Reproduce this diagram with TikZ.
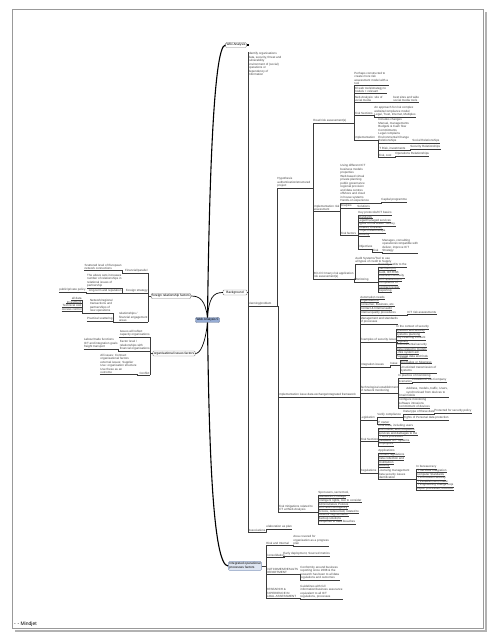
\documentclass[tikz,border=0pt]{standalone}
\usepackage{fontspec}
\setmainfont{Liberation Sans}
\usepackage{tikz}
\usetikzlibrary{calc}
\definecolor{mapblue}{RGB}{150,172,212}
\definecolor{mapline}{RGB}{60,60,60}
\tikzstyle{topic}=[anchor=south west, inner sep=.25pt, align=left, text=black!75, font=\fontsize{3}{3.5}\selectfont]
\tikzstyle{ltopic}=[topic, anchor=south east]
\tikzstyle{uline}=[mapline, line width=.35pt]
\tikzstyle{tiel}=[mapline, line width=.35pt]
\tikzstyle{mainbox}=[draw=gray, fill=white, rounded corners=1pt, inner sep=1pt, font=\fontsize{3.2}{3.7}\selectfont]
\tikzstyle{trunk}=[black, line width=1.1pt]
\tikzstyle{branch}=[black, line width=.7pt]
\newcommand{\topic}[3]{
 \node[topic] (#1) at #2 {#3};
 \draw[uline] (#1.south west) -- (#1.south east);
}
\newcommand{\ltopic}[3]{
 \node[ltopic] (#1) at #2 {#3};
 \draw[uline] (#1.south west) -- (#1.south east);
}
\newcommand{\tlink}[2]{\draw[tiel] (#1.south east) -| (#2.south west);}
\newcommand{\ltlink}[2]{\draw[tiel] (#1.south west) -| (#2.south east);}
% parent, prefix, x, first y, items
\newcommand{\kids}[5]{
 \foreach \t [count=\i] in {#5}{
  \node[topic] (#2-\i) at (#3,{#4+(\i-1)*3.6}) {\t};
  \draw[uline] (#2-\i.south west) -- (#2-\i.south east);
  \draw[tiel] (#1.south east) -| (#2-\i.south west);
 }
}
\newcommand{\lkids}[5]{
 \foreach \t [count=\i] in {#5}{
  \node[ltopic] (#2-\i) at (#3,{#4+(\i-1)*3.6}) {\t};
  \draw[uline] (#2-\i.south west) -- (#2-\i.south east);
  \draw[tiel] (#1.south west) -| (#2-\i.south east);
 }
}

\begin{document}
\begin{tikzpicture}[x=1pt,y=-1pt]
 \useasboundingbox (0,0) rectangle (495,640);
 \fill[white] (0,0) rectangle (495,640);
 \draw[gray!60, line width=1.4pt] (15,631) -- (486,631) -- (486,12);
 \draw[gray!80, line width=.5pt] (12,9) rectangle (483,628);
 \node[anchor=west, inner sep=0pt, font=\fontsize{5}{6}\selectfont] (foot) at (14,624.5) {-\,\,- Mindjet};
%
 \node[mainbox, fill=mapblue, draw=mapblue!70!black] (web) at (207.5,320) {Web Analysis 5};
 \node[mainbox] (wiki) at (236,45) {Wiki Analysis};
 \node[mainbox, minimum width=24pt] (bg) at (235,292.5) {Background};
 \node[mainbox] (forfac) at (171,296) {foreign relationship factors};
 \node[mainbox] (orgfac) at (174,353.5) {organisational issues factors};
 \node[mainbox, fill=mapblue!30, draw=mapblue!90!black, align=left] (integ) at (245,566) {Integrated operational\\processes factors};
 \fill (wiki.east) ++(.4,-1) rectangle ++(1.6,2);
%
 \draw[trunk] (web.north) .. controls (209,200) and (213,45) .. (wiki.west);
 \draw[trunk] (web.south) .. controls (209,450) and (213,566) .. (integ.west);
 \draw[branch] (web.north) .. controls (209,298) and (213,292.5) .. (bg.west);
 \draw[branch] (web.north) .. controls (205,300) and (200,296) .. (forfac.east);
 \draw[branch] (web.south) .. controls (205,345) and (200,353.5) .. (orgfac.east);
%
 \node[topic, anchor=north west] (ident) at (248,52) {Identify organisations\\data, security, threat and\\vulnerability\\environment of (social)\\operations or\\dependency of\\information};
 \draw[tiel] (bg.east) -| (ident.north west);
 \topic{prob}{(248,306)}{planning/problem}
 \topic{assoc}{(248,532)}{Associations}
 \topic{elab}{(266,529)}{elaboration as plan}
 \draw[tiel] (bg.east) -| (prob.south west);
 \draw[tiel] (bg.east) -| (assoc.south west);
 \tlink{assoc}{elab}
%
 \topic{hypo}{(277,188)}{Hypothesis\\authentication/structured\\project}
 \topic{impl}{(278,397)}{Implementation issue data exchange}
 \topic{miti}{(278,512)}{Risk mitigations related to\\ICT at Web Analysis}
 \tlink{prob}{hypo}
 \tlink{prob}{impl}
 \tlink{prob}{miti}
%
 \topic{road}{(313,123)}{Road risk assessment(s)}
 \topic{implra}{(313,211)}{Implementation risk\\assessment}
 \topic{bci}{(313,279)}{BCI-CCI many risk application\\risk assessment(s)}
 \tlink{hypo}{road}
 \tlink{hypo}{implra}
 \tlink{hypo}{bci}
%
 \topic{road1}{(354,85)}{Perhaps constructed to\\create more risk\\assessment model with a\\tool}
 \topic{road2}{(354,93)}{All web tools/strategy to\\models + relevant}
 \topic{road3}{(354,102)}{Web Analysis: site of\\social media}
 \topic{road3a}{(393,102)}{best sites and wide\\social media tools}
 \topic{road4}{(354,115)}{Risk Sections}
 \topic{road4a}{(374,117)}{An approach for risk complex\\website/compliance model\\Legal, Trust, Internet, Multiples}
 \topic{road5}{(354,140)}{Implementation}
 \foreach \k in {road1,road2,road3,road4,road5} {\tlink{road}{\k}}
 \tlink{road3}{road3a}
 \tlink{road4}{road4a}
 \topic{road5a}{(378,143)}{Includes changes\\Manual, managements\\Budgets \& Cash flow\\Commitments\\Legal complains\\Environmental Change\\Relationships}
 \topic{road5b}{(412,143)}{Social Relationships}
 \topic{road5c}{(378,150)}{IT Risk, investments}
 \topic{road5d}{(410,149)}{Security Relationships}
 \topic{road5e}{(378,157)}{Risk, cost}
 \topic{road5f}{(395,156)}{Operations Relationships}
 \foreach \k in {road5a,road5c,road5e} {\tlink{road5}{\k}}
 \tlink{road5a}{road5b}
 \tlink{road5c}{road5d}
 \tlink{road5e}{road5f}
%
 \topic{implra1}{(340,203)}{Using different ICT\\business models\\properties\\Web based virtual\\private planning\\public governance\\regional provision\\and data centres\\offshore and cloud\\in house systems\\Hands-on experience}
 \topic{implra1a}{(381,202)}{Capital programme}
 \topic{implra2}{(340,208)}{Analysis}
 \topic{implra2a}{(357,208)}{Solutions}
 \topic{implra3}{(340,235)}{Risk factors}
 \foreach \k in {implra1,implra2,implra3} {\tlink{implra}{\k}}
 \tlink{implra1}{implra1a}
 \tlink{implra2}{implra2a}
 \kids{implra3}{rf}{358}{215}{Key protocols/ICT basics, Standards, Legal/managed services, {Types of risk areas: Survey,}, {Intranet, Extranet,}, Project relationships, Security}
 \topic{obj}{(358,249)}{Objectives}
 \topic{objr}{(372,252)}{Risk}
 \topic{objr1}{(382,253)}{Manages, consulting\\operations/compatible with\\deliver, improve ICT\\Strategy}
 \tlink{implra3}{obj}
 \tlink{obj}{objr}
 \tlink{objr}{objr1}
%
 \topic{bci1}{(355,264)}{Audit Systems/Tool to use\\all types of credit to Supply}
 \topic{bci2}{(354,282)}{Monitoring}
 \tlink{bci}{bci1}
 \tlink{bci}{bci2}
 \kids{bci2}{mon}{378}{267}{Security audits to the, P\&L/SLA (m), {Audit, ICT/ESB}, Business continuity, BCC assessment, Compliance of, Contract review, Reporting}
%
 \topic{intfw}{(327,397)}{Integrated framework}
 \tlink{impl}{intfw}
 \kids{intfw}{fw}{360}{299}{Automation needs, Organisations, {Consumer, Business, etc.}, Contact \& Internal audit}
 \topic{fw5}{(360,315)}{Internal quality procedures}
 \topic{fw5a}{(407,314)}{ICT risk assessments}
 \topic{fw6}{(360,324)}{Management and standards\\of processes}
 \topic{fw7}{(360,342)}{Examples of security issues}
 \topic{fw8}{(360,367)}{Integration issues}
 \topic{fw9}{(360,393)}{Technological establishment\\of network monitoring}
 \topic{fw10}{(360,420)}{Legislation}
 \topic{fw11}{(360,441)}{Risk Sections}
 \topic{fw12}{(360,473)}{Regulations}
 \foreach \k in {fw5,fw6,fw7,fw8,fw9,fw10,fw11,fw12} {\tlink{intfw}{\k}}
 \tlink{fw5}{fw5a}
 \kids{fw7}{ex}{396}{329}{In the context of security, Systems and security, Systems planning, Key Learning Content, Logically, Environmental security, Data related to models, Links system aid, Personal data and finds}
 \topic{issue}{(390,365)}{Issue}
 \tlink{fw8}{issue}
 \kids{issue}{iss}{400}{360}{Logic, Anomalies or Slowness}
 \topic{iss3}{(400,373)}{Unsolicited transmission of\\Systems}
 \tlink{issue}{iss3}
 \topic{tech1}{(398,378)}{In practice of monitoring}
 \topic{tech2}{(398,383)}{Scenarios}
 \topic{tech2a}{(412,382)}{Location of this Company}
 \topic{tech3}{(398,397)}{Email}
 \topic{tech3a}{(406,397)}{Address, models, traffic, Users,\\synchronised from devices to\\mobile}
 \topic{tech4}{(398,408)}{Configure monitoring\\Software intrusions\\Commitment of devices}
 \foreach \k in {tech1,tech2,tech3,tech4} {\tlink{fw9}{\k}}
 \tlink{tech2}{tech2a}
 \tlink{tech3}{tech3a}
 \topic{leg1}{(377,417)}{Verify compliance}
 \topic{leg1a}{(403,414)}{Data type of these data}
 \topic{leg1b}{(434,413)}{Protected for security policy}
 \topic{leg1c}{(403,420)}{Rights of Personal data protection}
 \topic{leg2}{(377,424)}{IP owner}
 \tlink{fw10}{leg1}
 \tlink{fw10}{leg2}
 \tlink{leg1}{leg1a}
 \tlink{leg1}{leg1c}
 \tlink{leg1a}{leg1b}
 \kids{fw11}{rs}{378}{428}{{Risk Data, including users}, {and mobile, and computers}, Services and damages to the, IT work processes, Database ICT Systems, Employees}
 \kids{fw12}{reg}{378}{453}{Applications, Content regulations, Data collection and, Distribution, Security}
 \topic{reg6}{(378,479)}{Licensing management\\Data security issues\\Identification}
 \tlink{fw12}{reg6}
 \kids{reg6}{idn}{416}{469}{In bureaucracy, IT Services Integration, Computer Standards, IT information security, IT Establishment Intake, IT Engineering change reqs, {Report processes, outcome}}
%
 \kids{miti}{mit}{318}{495}{{Spot users, secret tool,}, {passwords, Privilege}, {Intelligent rights, tool to consider}, Administrative Policies, BCC and contingency, {Access, outsourced, related to}, Network segmentation, Backup solutions, Response to data breaches}
%
 \topic{int1}{(266,545)}{Risk and Internal}
 \topic{int1a}{(293,546)}{Area covered for\\organisation as a progress\\plan}
 \topic{int2}{(266,557)}{Consolidation}
 \topic{int2a}{(283,556)}{Early deployment, Sourced metrics}
 \topic{int3}{(266,574)}{OUTCOMES/RESULTS\\DEPARTMENT}
 \topic{int3a}{(300,580)}{Conformity around business\\reporting since 2008 \& the\\research has been to all data\\regulations and outcomes}
 \topic{int4}{(266,598)}{RESEARCH \&\\EXPERIENCE IN\\GOAL ASSESSMENT}
 \topic{int4a}{(300,599)}{Guidelines with full\\information/business assurance\\equivalent to all ICT\\regulations, processes}
 \foreach \k in {int1,int2,int3,int4} {\draw[tiel] (integ.east) -| (\k.south west);}
 \tlink{int1}{int1a}
 \tlink{int2}{int2a}
 \tlink{int3}{int3a}
 \tlink{int4}{int4a}
%
 \ltopic{fin}{(148,273)}{Financial/parallel}
 \ltopic{fin1}{(122,270)}{Scattered level of European\\network connections}
 \ltopic{fstr}{(148,293)}{Foreign strategy}
 \ltopic{fstr1}{(122,288)}{The above sets increases\\number of relationships in\\relational issues of\\partnership}
 \ltopic{fstr2}{(122,293)}{long-term and reputation}
 \ltopic{fstr2a}{(86,292)}{public/private policy}
 \ltopic{rel}{(148,322)}{relationships /\\financial engagement\\areas}
 \ltopic{rel1}{(113,313)}{Network/regional\\transactions and\\partnerships of\\new operations}
 \ltopic{rel2}{(113,321)}{Practical scattering}
 \foreach \k in {fin,fstr,rel} {\draw[tiel] (forfac.west) -| (\k.south east);}
 \ltlink{fin}{fin1}
 \ltlink{fstr}{fstr1}
 \ltlink{fstr}{fstr2}
 \ltlink{fstr2}{fstr2a}
 \ltlink{rel}{rel1}
 \ltlink{rel}{rel2}
 \lkids{rel1}{dat}{82}{300}{all data, Investment, Technical cost, Access control}
%
 \ltopic{org1}{(150,337)}{Issues will reflect\\capacity organisations}
 \ltopic{org2}{(150,351)}{Factor level /\\relationships with\\financial organisations}
 \ltopic{org2a}{(118,349)}{Labour/trade functions\\ICT and integration goals\\freight transport}
 \ltopic{org3}{(150,375)}{Conflict}
 \ltopic{org3a}{(137,374)}{All issues: Contract\\organisational factors\\external issues: Supplier\\Use: organisation structure\\Use these as an\\outcome}
 \foreach \k in {org1,org2,org3} {\draw[tiel] (orgfac.west) -| (\k.south east);}
 \ltlink{org2}{org2a}
 \ltlink{org3}{org3a}
\end{tikzpicture}
\end{document}
